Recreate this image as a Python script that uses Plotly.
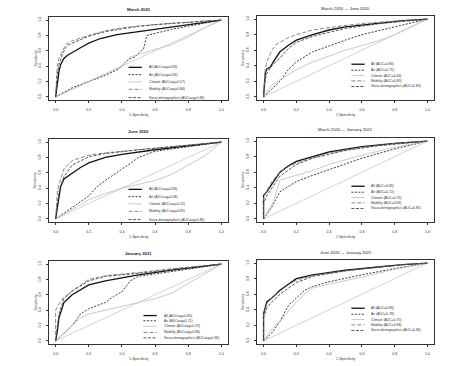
import plotly.graph_objects as go

# ---------------- data (FPR = 1-Specificity, TPR = Sensitivity) ----------------
series_names = ["All", "Air", "Climate", "Mobility", "Socio-demographics"]
titles = ["March 2020", "March 2020 \u2192 June 2020", "June 2020",
          "March 2020 \u2192 January 2021", "January 2021", "June 2020 \u2192 January 2021"]
auc_labels = ["AUCavg", "AUC", "AUCavg", "AUC", "AUCavg", "AUC"]
auc_p1 = [0.83, 0.63, 0.57, 0.86, 0.86]
auc_p2 = [0.86, 0.75, 0.66, 0.89, 0.83]
auc_p3 = [0.83, 0.68, 0.55, 0.85, 0.86]
auc_p4 = [0.86, 0.72, 0.76, 0.84, 0.85]
auc_p5 = [0.85, 0.71, 0.59, 0.86, 0.86]
auc_p6 = [0.88, 0.78, 0.75, 0.86, 0.86]
diag = [0, 1]
tick_vals = [0, 0.2, 0.4, 0.6, 0.8, 1.0]
tick_text = ["0.0", "0.2", "0.4", "0.6", "0.8", "1.0"]

# Panel 1: March 2020
p1_all_fpr = [0, 0.01, 0.02, 0.03, 0.05, 0.07, 0.1, 0.15, 0.2, 0.27, 0.37, 0.5, 0.6, 0.73, 0.85, 1]
p1_all_tpr = [0, 0.2, 0.33, 0.42, 0.5, 0.54, 0.58, 0.64, 0.7, 0.76, 0.81, 0.85, 0.88, 0.92, 0.96, 1]
p1_air_fpr = [0, 0.05, 0.1, 0.2, 0.3, 0.38, 0.42, 0.45, 0.48, 0.5, 0.53, 0.55, 0.6, 0.7, 0.8, 0.9, 1]
p1_air_tpr = [0, 0.06, 0.12, 0.2, 0.28, 0.36, 0.45, 0.5, 0.52, 0.57, 0.62, 0.8, 0.83, 0.88, 0.92, 0.96, 1]
p1_cli_fpr = [0, 0.1, 0.2, 0.3, 0.4, 0.45, 0.5, 0.6, 0.7, 0.8, 0.9, 1]
p1_cli_tpr = [0, 0.1, 0.2, 0.3, 0.4, 0.52, 0.55, 0.62, 0.68, 0.78, 0.9, 1]
p1_mob_fpr = [0, 0.005, 0.01, 0.02, 0.04, 0.06, 0.1, 0.15, 0.2, 0.3, 0.4, 0.5, 0.6, 0.7, 0.8, 0.9, 1]
p1_mob_tpr = [0, 0.25, 0.4, 0.5, 0.6, 0.68, 0.73, 0.77, 0.8, 0.86, 0.9, 0.92, 0.94, 0.96, 0.97, 0.99, 1]
p1_soc_fpr = [0, 0.01, 0.02, 0.04, 0.06, 0.08, 0.12, 0.2, 0.3, 0.4, 0.5, 0.6, 0.8, 1]
p1_soc_tpr = [0, 0.3, 0.42, 0.55, 0.64, 0.68, 0.72, 0.79, 0.85, 0.89, 0.92, 0.94, 0.97, 1]

# Panel 2: March 2020 -> June 2020
p2_all_fpr = [0, 0.005, 0.01, 0.02, 0.04, 0.06, 0.08, 0.1, 0.15, 0.2, 0.3, 0.4, 0.5, 0.7, 0.85, 1]
p2_all_tpr = [0, 0.2, 0.3, 0.36, 0.38, 0.45, 0.52, 0.58, 0.66, 0.73, 0.8, 0.86, 0.9, 0.95, 0.98, 1]
p2_air_fpr = [0, 0.05, 0.1, 0.15, 0.2, 0.3, 0.4, 0.5, 0.6, 0.7, 0.8, 0.9, 1]
p2_air_tpr = [0, 0.1, 0.2, 0.35, 0.45, 0.58, 0.66, 0.73, 0.8, 0.85, 0.9, 0.95, 1]
p2_cli_fpr = [0, 0.05, 0.1, 0.2, 0.3, 0.4, 0.5, 0.6, 0.7, 0.8, 0.9, 1]
p2_cli_tpr = [0, 0.15, 0.22, 0.35, 0.45, 0.53, 0.6, 0.66, 0.72, 0.8, 0.9, 1]
p2_mob_fpr = [0, 0.005, 0.01, 0.02, 0.05, 0.08, 0.15, 0.2, 0.3, 0.5, 0.7, 0.85, 1]
p2_mob_tpr = [0, 0.25, 0.35, 0.45, 0.6, 0.68, 0.76, 0.8, 0.86, 0.92, 0.96, 0.98, 1]
p2_soc_fpr = [0, 0.005, 0.01, 0.02, 0.05, 0.1, 0.15, 0.2, 0.3, 0.5, 0.7, 0.85, 1]
p2_soc_tpr = [0, 0.15, 0.22, 0.3, 0.4, 0.5, 0.62, 0.7, 0.78, 0.88, 0.94, 0.97, 1]

# Panel 3: June 2020
p3_all_fpr = [0, 0.01, 0.02, 0.03, 0.05, 0.1, 0.15, 0.2, 0.3, 0.4, 0.6, 0.8, 1]
p3_all_tpr = [0, 0.15, 0.3, 0.42, 0.52, 0.6, 0.67, 0.73, 0.8, 0.84, 0.9, 0.95, 1]
p3_air_fpr = [0, 0.05, 0.1, 0.2, 0.25, 0.3, 0.35, 0.4, 0.45, 0.5, 0.6, 0.8, 1]
p3_air_tpr = [0, 0.08, 0.15, 0.3, 0.42, 0.5, 0.58, 0.65, 0.72, 0.8, 0.88, 0.94, 1]
p3_cli_fpr = [0, 0.1, 0.2, 0.3, 0.4, 0.5, 0.6, 0.7, 0.8, 0.9, 1]
p3_cli_tpr = [0, 0.12, 0.25, 0.33, 0.4, 0.45, 0.5, 0.58, 0.7, 0.82, 1]
p3_mob_fpr = [0, 0.005, 0.01, 0.02, 0.05, 0.1, 0.2, 0.3, 0.5, 0.8, 1]
p3_mob_tpr = [0, 0.25, 0.35, 0.45, 0.65, 0.76, 0.83, 0.86, 0.9, 0.96, 1]
p3_soc_fpr = [0, 0.01, 0.02, 0.05, 0.1, 0.2, 0.3, 0.5, 0.8, 1]
p3_soc_tpr = [0, 0.22, 0.35, 0.55, 0.7, 0.81, 0.85, 0.9, 0.96, 1]

# Panel 4: March 2020 -> January 2021
p4_all_fpr = [0, 0, 0.02, 0.05, 0.1, 0.15, 0.2, 0.3, 0.4, 0.6, 0.8, 1]
p4_all_tpr = [0, 0.3, 0.35, 0.45, 0.6, 0.68, 0.74, 0.8, 0.86, 0.93, 0.97, 1]
p4_air_fpr = [0, 0.05, 0.1, 0.2, 0.3, 0.4, 0.5, 0.6, 0.8, 1]
p4_air_tpr = [0, 0.15, 0.35, 0.48, 0.56, 0.63, 0.7, 0.78, 0.9, 1]
p4_cli_fpr = [0, 0.03, 0.06, 0.1, 0.2, 0.3, 0.4, 0.5, 0.6, 0.8, 1]
p4_cli_tpr = [0, 0.12, 0.22, 0.5, 0.56, 0.62, 0.7, 0.76, 0.82, 0.92, 1]
p4_mob_fpr = [0, 0, 0.02, 0.05, 0.1, 0.15, 0.2, 0.3, 0.4, 0.6, 0.8, 1]
p4_mob_tpr = [0, 0.28, 0.36, 0.48, 0.6, 0.67, 0.72, 0.79, 0.85, 0.92, 0.97, 1]
p4_soc_fpr = [0, 0, 0.02, 0.05, 0.1, 0.2, 0.3, 0.5, 0.7, 1]
p4_soc_tpr = [0, 0.2, 0.3, 0.4, 0.55, 0.7, 0.78, 0.88, 0.94, 1]

# Panel 5: January 2021
p5_all_fpr = [0, 0.01, 0.02, 0.05, 0.1, 0.2, 0.3, 0.4, 0.5, 0.7, 0.85, 1]
p5_all_tpr = [0, 0.12, 0.3, 0.5, 0.6, 0.73, 0.78, 0.82, 0.86, 0.92, 0.96, 1]
p5_air_fpr = [0, 0.05, 0.1, 0.15, 0.2, 0.3, 0.35, 0.4, 0.45, 0.5, 0.7, 0.85, 1]
p5_air_tpr = [0, 0.1, 0.2, 0.35, 0.42, 0.5, 0.58, 0.64, 0.78, 0.84, 0.9, 0.95, 1]
p5_cli_fpr = [0, 0.1, 0.15, 0.2, 0.3, 0.4, 0.5, 0.6, 0.7, 0.8, 0.9, 1]
p5_cli_tpr = [0, 0.2, 0.3, 0.35, 0.4, 0.45, 0.5, 0.55, 0.62, 0.75, 0.88, 1]
p5_mob_fpr = [0, 0, 0.02, 0.05, 0.1, 0.2, 0.3, 0.5, 0.7, 0.85, 1]
p5_mob_tpr = [0, 0.4, 0.48, 0.57, 0.65, 0.8, 0.85, 0.89, 0.94, 0.97, 1]
p5_soc_fpr = [0, 0.01, 0.02, 0.05, 0.1, 0.2, 0.3, 0.5, 0.7, 0.85, 1]
p5_soc_tpr = [0, 0.2, 0.35, 0.55, 0.65, 0.78, 0.84, 0.88, 0.93, 0.97, 1]

# Panel 6: June 2020 -> January 2021
p6_all_fpr = [0, 0, 0.02, 0.05, 0.1, 0.15, 0.2, 0.3, 0.5, 0.7, 0.85, 1]
p6_all_tpr = [0, 0.35, 0.5, 0.55, 0.65, 0.72, 0.8, 0.85, 0.91, 0.95, 0.98, 1]
p6_air_fpr = [0, 0.05, 0.1, 0.15, 0.2, 0.25, 0.3, 0.4, 0.6, 0.8, 1]
p6_air_tpr = [0, 0.1, 0.25, 0.45, 0.55, 0.65, 0.7, 0.76, 0.85, 0.93, 1]
p6_cli_fpr = [0, 0.05, 0.1, 0.2, 0.25, 0.3, 0.4, 0.6, 0.8, 1]
p6_cli_tpr = [0, 0.15, 0.25, 0.5, 0.6, 0.68, 0.73, 0.82, 0.92, 1]
p6_mob_fpr = [0, 0, 0.02, 0.05, 0.1, 0.15, 0.2, 0.3, 0.5, 0.7, 0.85, 1]
p6_mob_tpr = [0, 0.33, 0.48, 0.55, 0.64, 0.72, 0.78, 0.84, 0.9, 0.95, 0.98, 1]
p6_soc_fpr = [0, 0, 0.02, 0.05, 0.1, 0.2, 0.3, 0.5, 0.7, 0.85, 1]
p6_soc_tpr = [0, 0.3, 0.42, 0.5, 0.6, 0.75, 0.83, 0.9, 0.95, 0.98, 1]

panels = [
    (p1_all_fpr, p1_all_tpr, p1_air_fpr, p1_air_tpr, p1_cli_fpr, p1_cli_tpr, p1_mob_fpr, p1_mob_tpr, p1_soc_fpr, p1_soc_tpr, auc_p1),
    (p2_all_fpr, p2_all_tpr, p2_air_fpr, p2_air_tpr, p2_cli_fpr, p2_cli_tpr, p2_mob_fpr, p2_mob_tpr, p2_soc_fpr, p2_soc_tpr, auc_p2),
    (p3_all_fpr, p3_all_tpr, p3_air_fpr, p3_air_tpr, p3_cli_fpr, p3_cli_tpr, p3_mob_fpr, p3_mob_tpr, p3_soc_fpr, p3_soc_tpr, auc_p3),
    (p4_all_fpr, p4_all_tpr, p4_air_fpr, p4_air_tpr, p4_cli_fpr, p4_cli_tpr, p4_mob_fpr, p4_mob_tpr, p4_soc_fpr, p4_soc_tpr, auc_p4),
    (p5_all_fpr, p5_all_tpr, p5_air_fpr, p5_air_tpr, p5_cli_fpr, p5_cli_tpr, p5_mob_fpr, p5_mob_tpr, p5_soc_fpr, p5_soc_tpr, auc_p5),
    (p6_all_fpr, p6_all_tpr, p6_air_fpr, p6_air_tpr, p6_cli_fpr, p6_cli_tpr, p6_mob_fpr, p6_mob_tpr, p6_soc_fpr, p6_soc_tpr, auc_p6),
]

# ---------------- styling ----------------
W, H = 474, 366
styles = [
    dict(color="#111111", width=1.3, dash="solid"),
    dict(color="#222222", width=0.9, dash="2px,1.5px"),
    dict(color="#bdbdbd", width=0.8, dash="solid"),
    dict(color="#7a7a7a", width=0.9, dash="4px,2px"),
    dict(color="#444444", width=0.9, dash="3px,1.5px"),
]
FONT = "Liberation Sans, Arial, sans-serif"
TXT = "#333333"

# panel boxes in pixels: (left, right, top, bottom)
boxes = [
    (49, 228, 17, 100), (257, 434, 16, 100),
    (49, 228, 139, 222), (257, 434, 138, 222),
    (49, 228, 261, 344), (257, 434, 260, 344),
]
# legend positions (axis units): line x0, x1, text x, row y values
leg_left = dict(x0=0.44, x1=0.52, tx=0.55, ys=[0.385, 0.29, 0.196, 0.099, -0.009])
leg_left5 = dict(x0=0.53, x1=0.61, tx=0.64, ys=[0.33, 0.262, 0.19, 0.11, 0.04])
leg_right = dict(x0=0.536, x1=0.617, tx=0.644, ys=[0.42, 0.343, 0.275, 0.206, 0.134])
legends = [leg_left, leg_right, leg_left, leg_right, leg_left5, leg_right]

fig = go.Figure()
shapes, annotations = [], []
RNG = [-0.04, 1.04]

for i, (box, pdata) in enumerate(zip(boxes, panels)):
    n = i + 1
    xa = "x" if n == 1 else f"x{n}"
    ya = "y" if n == 1 else f"y{n}"
    l, r, t, b = box
    dom_x = [l / W, r / W]
    dom_y = [1 - b / H, 1 - t / H]
    axis_common = dict(range=RNG, showgrid=False, zeroline=False, showline=True,
                       linecolor="#333333", linewidth=0.7, mirror=True,
                       ticks="outside", ticklen=2.5, tickwidth=0.6, tickcolor="#333333",
                       tickvals=tick_vals, ticktext=tick_text,
                       tickfont=dict(size=3.6, color=TXT, family=FONT))
    fig.layout[f"xaxis{'' if n == 1 else n}"] = dict(domain=dom_x, anchor=ya,
                                                     ticklabelstandoff=3, **axis_common)
    fig.layout[f"yaxis{'' if n == 1 else n}"] = dict(domain=dom_y, anchor=xa, tickangle=-90,
                                                     ticklabelstandoff=3, **axis_common)
    # diagonal reference
    fig.add_trace(go.Scatter(x=diag, y=diag, mode="lines", xaxis=xa, yaxis=ya,
                             line=dict(color="#c8c8c8", width=0.8), showlegend=False,
                             hoverinfo="skip"))
    aucs = pdata[10]
    for s in range(5):
        fx, ty = pdata[2 * s], pdata[2 * s + 1]
        fig.add_trace(go.Scatter(x=fx, y=ty, mode="lines", xaxis=xa, yaxis=ya,
                                 line=styles[s], name=series_names[s], showlegend=False))
    # legend (drawn manually, R style, no box)
    lg = legends[i]
    for s in range(5):
        yv = lg["ys"][s]
        shapes.append(dict(type="line", xref=xa, yref=ya, x0=lg["x0"], x1=lg["x1"],
                           y0=yv, y1=yv, line=styles[s]))
        annotations.append(dict(xref=xa, yref=ya, x=lg["tx"], y=yv, xanchor="left",
                                yanchor="middle", showarrow=False,
                                text=f"{series_names[s]} ({auc_labels[i]}={aucs[s]:.2f})",
                                font=dict(size=3.4, color=TXT, family=FONT)))
    cx = (l + r) / 2
    left_col = (i % 2 == 0)
    # title
    annotations.append(dict(xref="paper", yref="paper", x=cx / W, y=1 - (t - 8) / H,
                            text=(f"<b>{titles[i]}</b>" if left_col else titles[i]),
                            showarrow=False, xanchor="center", yanchor="middle",
                            font=dict(size=4.2, color="#222222", family=FONT)))
    # x axis title
    annotations.append(dict(xref="paper", yref="paper", x=cx / W, y=1 - (b + 15) / H,
                            text="1-Specificity", showarrow=False, xanchor="center",
                            yanchor="middle", font=dict(size=3.6, color=TXT, family=FONT)))
    # y axis title
    annotations.append(dict(xref="paper", yref="paper", x=(l - 14) / W, y=1 - ((t + b) / 2) / H,
                            text="Sensitivity", showarrow=False, xanchor="center",
                            yanchor="middle", textangle=-90,
                            font=dict(size=3.6, color=TXT, family=FONT)))

fig.update_layout(width=W, height=H, margin=dict(l=0, r=0, t=0, b=0),
                  paper_bgcolor="white", plot_bgcolor="white",
                  shapes=shapes, annotations=annotations, showlegend=False)
fig.write_html("out.html", config={"displayModeBar": False},
               post_script="document.body.style.margin='0';document.body.style.padding='0';document.body.style.overflow='hidden';")
